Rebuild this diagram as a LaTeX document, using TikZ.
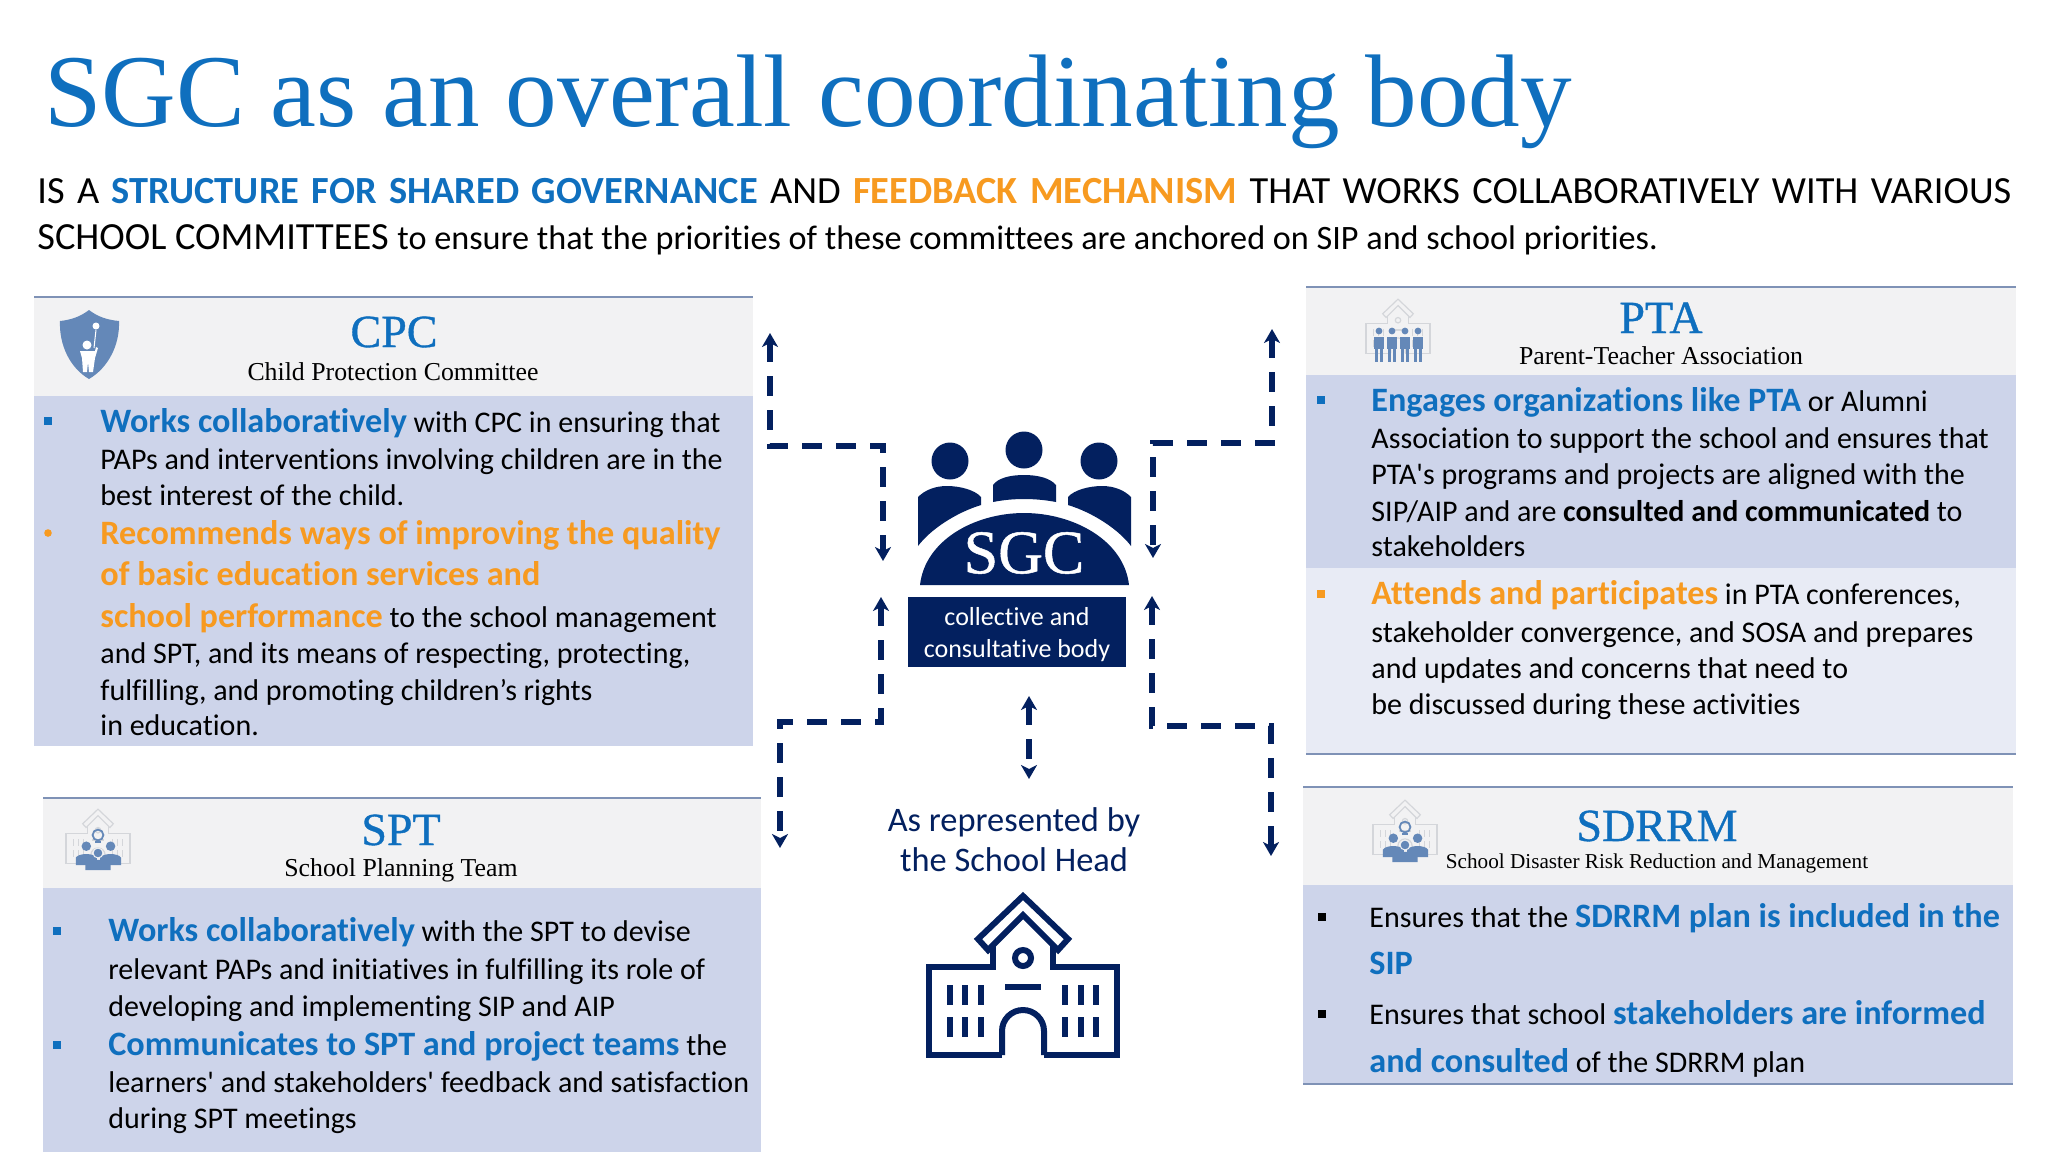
\documentclass[tikz,border=0pt]{standalone}
\usepackage{fontspec}
\usepackage{xcolor}
\usetikzlibrary{arrows.meta}
\setmainfont{Carlito}[Ligatures=NoCommon]
\newfontfamily\headfont{Liberation Serif}
\newfontfamily\titlefont[FakeBold=0.8]{Liberation Serif}
\definecolor{sgcblue}{HTML}{0F6FBE}
\definecolor{sgcorange}{HTML}{F79A20}
\definecolor{sgcnavy}{HTML}{03205F}
\definecolor{paneldark}{HTML}{CDD4EA}
\definecolor{panellight}{HTML}{E8EBF5}
\definecolor{panelhead}{HTML}{F2F2F3}
\definecolor{panelrule}{HTML}{7F92B6}
\definecolor{iconblue}{HTML}{6488B8}
\definecolor{icongrey}{HTML}{D4D6DA}
\newcommand{\hiblue}[1]{{\fontsize{17.1}{20}\selectfont\bfseries\color{sgcblue}#1}}
\newcommand{\hiorange}[1]{{\fontsize{17.1}{20}\selectfont\bfseries\color{sgcorange}#1}}

\begin{document}
\begin{tikzpicture}[x=.5pt,y=-.5pt]
\tikzset{bodyline/.style={anchor=base west,inner sep=0pt,yshift=-.6pt,font=\fontsize{15}{18}\selectfont}}
\tikzset{paneltitle/.style={anchor=base,inner sep=0pt,text=sgcblue,font=\titlefont\fontsize{23}{26}\selectfont}}
\tikzset{panelsub/.style={anchor=base,inner sep=0pt,yshift=-.4pt,font=\headfont\fontsize{12.9}{15}\selectfont}}
\tikzset{squarebullet/.style={rectangle,fill=#1,inner sep=0pt,minimum size=3.6pt}}
\tikzset{link/.style={draw=sgcnavy,line width=2.7pt,dash pattern=on 10pt off 7pt,{Stealth[length=7pt,width=8pt,inset=2pt]}-{Stealth[length=7pt,width=8pt,inset=2pt]}}}
\tikzset{rule/.style={draw=panelrule,line width=1pt}}
\tikzset{hallicon/.pic={
  \draw (-21,80) -- (-94,80) -- (-94,-8) -- (-30,-8) -- (-30,-30);
  \draw (21,80) -- (94,80) -- (94,-8) -- (30,-8) -- (30,-30);
  \draw (-21,80) -- (-21,56) arc[start angle=180,end angle=360,radius=21] -- (21,80);
  \draw (0,-79) -- (-45,-36) -- (-35,-25) -- (0,-60) -- (35,-25) -- (45,-36) -- cycle;
  \draw (0,-17) circle (8);
  \draw (-18,12) -- (18,12);
  \foreach \wx in {-73,-58,-42,42,58,73} {
    \draw (\wx,10) -- (\wx,30);
    \draw (\wx,42) -- (\wx,62);
  }
}}
\tikzset{bust/.pic={
  \fill (0,-10) circle (5);
  \fill (-11,10) -- (-11,2) .. controls (-8,-3) and (8,-3) .. (11,2) -- (11,10) -- cycle;
}}
\tikzset{planners/.pic={
  \draw[line width=.9pt] (0,0) circle (6);
  \draw[line width=.9pt] (-3,8) -- (3,8);
  \pic[scale=.95] at (-13,23) {bust};
  \pic[scale=.95] at (14,23) {bust};
  \draw[fill=iconblue,draw=panelhead,line width=.5pt] (0,20) circle (5.5);
  \fill (-14,39) -- (-14,32) .. controls (-10,26) and (10,26) .. (14,32) -- (14,39) -- cycle;
}}
\useasboundingbox (0,0) rectangle (2048,1152);

% heading
\node[anchor=base west,inner sep=0pt,text=sgcblue,font=\headfont\fontsize{51.6}{56}\selectfont] (heading) at (44,126) {SGC as an overall coordinating body};
\node[anchor=base west,inner sep=0pt,font=\fontsize{19.2}{23}\selectfont] (introA) at (37,203) {\makebox[987pt][s]{IS A \textbf{\textcolor{sgcblue}{STRUCTURE FOR SHARED GOVERNANCE}} AND \textbf{\textcolor{sgcorange}{FEEDBACK MECHANISM}} THAT WORKS COLLABORATIVELY WITH VARIOUS}};
\node[anchor=base west,inner sep=0pt,font=\fontsize{19.2}{23}\selectfont] (introB) at (37,249) {SCHOOL COMMITTEES {\fontsize{17.1}{20}\selectfont to ensure that the priorities of these committees are anchored on SIP and school priorities.}};

% panels
\fill[panelhead] (34,297) rectangle (753,396);
\fill[paneldark] (34,396) rectangle (753,746);
\draw[rule] (34,297) -- (753,297);
\fill[panelhead] (1306,287) rectangle (2016,375);
\fill[paneldark] (1306,375) rectangle (2016,568);
\fill[panellight] (1306,568) rectangle (2016,754);
\draw[rule] (1306,287) -- (2016,287);
\draw[rule] (1306,754) -- (2016,754);
\fill[panelhead] (43,798) rectangle (761,888);
\fill[paneldark] (43,888) rectangle (761,1152);
\draw[rule] (43,798) -- (761,798);
\fill[panelhead] (1303,787) rectangle (2013,885);
\fill[paneldark] (1303,885) rectangle (2013,1084);
\draw[rule] (1303,787) -- (2013,787);
\draw[rule] (1303,1084) -- (2013,1084);

% CPC
\node[paneltitle] (cpcT) at (394,347) {CPC};
\node[panelsub] (cpcS) at (393,380) {Child Protection Committee};
\node[squarebullet=sgcblue] (cpcBa) at (48,421) {};
\node[circle,fill=sgcorange,inner sep=0pt,minimum size=3.8pt] (cpcBb) at (48,533) {};
\node[bodyline] (cpcA) at (100,431) {\hiblue{Works collaboratively} with CPC in ensuring that};
\node[bodyline] (cpcB) at (100,468) {PAPs and interventions involving children are in the};
\node[bodyline] (cpcC) at (100,504) {best interest of the child.};
\node[bodyline] (cpcD) at (100,543) {\hiorange{Recommends ways of improving the quality}};
\node[bodyline] (cpcE) at (100,584) {\hiorange{of basic education services and}};
\node[bodyline] (cpcF) at (100,626) {\hiorange{school performance} to the school management};
\node[bodyline] (cpcG) at (100,662) {and SPT, and its means of respecting, protecting,};
\node[bodyline] (cpcH) at (100,699) {fulfilling, and promoting children’s rights};
\node[bodyline] (cpcI) at (100,734) {in education.};
% shield
\fill[iconblue] (89,310) .. controls (80,317) and (70,320) .. (60,321) .. controls (59,345) and (70,368) .. (89,379) .. controls (108,368) and (120,345) .. (119,321) .. controls (108,320) and (98,317) .. (89,310) -- cycle;
\fill[white] (87,345) circle (4.5);
\fill[white] (96,326) circle (3.5);
\draw[white,line width=.5pt] (96,330) -- (94,348);
\fill[white] (80,351) -- (95,351) -- (96,347) -- (98,348) -- (95,358) -- (93,372) -- (89,372) -- (88,362) -- (87,372) -- (83,372) -- (82,358) -- cycle;

% PTA
\node[paneltitle] (ptaT) at (1661,333) {PTA};
\node[panelsub] (ptaS) at (1661,364) {Parent-Teacher Association};
\pic[scale=.34,line width=.6pt,color=icongrey] at (1398,326) {hallicon};
\begin{scope}[color=iconblue]
\foreach \px in {1379,1392,1405,1418} {
  \fill (\px,331) circle (3.4);
  \fill (\px-5,337) rectangle (\px+5,349);
  \fill (\px-4,349) rectangle (\px-1,362);
  \fill (\px+1,349) rectangle (\px+4,362);
}
\end{scope}
\node[squarebullet=sgcblue] (ptaBa) at (1321,400) {};
\node[squarebullet=sgcorange] (ptaBb) at (1321,594) {};
\node[bodyline] (ptaA) at (1371,410) {\hiblue{Engages organizations like PTA} or Alumni};
\node[bodyline] (ptaB) at (1371,447) {Association to support the school and ensures that};
\node[bodyline] (ptaC) at (1371,483) {PTA\textquotesingle s programs and projects are aligned with the};
\node[bodyline] (ptaD) at (1371,520) {SIP/AIP and are \textbf{consulted and communicated} to};
\node[bodyline] (ptaE) at (1371,555) {stakeholders};
\node[bodyline] (ptaF) at (1371,603) {\hiorange{Attends and participates} in PTA conferences,};
\node[bodyline] (ptaG) at (1371,641) {stakeholder convergence, and SOSA and prepares};
\node[bodyline] (ptaH) at (1371,677) {and updates and concerns that need to};
\node[bodyline] (ptaI) at (1371,713) {be discussed during these activities};

% SPT
\node[paneltitle] (sptT) at (401,845) {SPT};
\node[panelsub] (sptS) at (401,876) {School Planning Team};
\pic[scale=.34,line width=.6pt,color=icongrey] at (98,836) {hallicon};
\pic[color=iconblue,scale=.9] at (98,835) {planners};
\node[squarebullet=sgcblue] (sptBa) at (57,931) {};
\node[squarebullet=sgcblue] (sptBb) at (57,1045) {};
\node[bodyline] (sptA) at (108,940) {\hiblue{Works collaboratively} with the SPT to devise};
\node[bodyline] (sptB) at (108,978) {relevant PAPs and initiatives in fulfilling its role of};
\node[bodyline] (sptC) at (108,1015) {developing and implementing SIP and AIP};
\node[bodyline] (sptD) at (108,1054) {\hiblue{Communicates to SPT and project teams} the};
\node[bodyline] (sptE) at (108,1091) {learners\textquotesingle{} and stakeholders\textquotesingle{} feedback and satisfaction};
\node[bodyline] (sptF) at (108,1127) {during SPT meetings};

% SDRRM
\node[paneltitle] (sdrT) at (1657,841) {SDRRM};
\node[panelsub,font=\headfont\fontsize{10.6}{13}\selectfont] (sdrS) at (1657,868) {School Disaster Risk Reduction and Management};
\pic[scale=.34,line width=.6pt,color=icongrey] at (1405,827) {hallicon};
\pic[color=iconblue,scale=.9] at (1405,827) {planners};
\node[squarebullet=black] (sdrBa) at (1322,917) {};
\node[squarebullet=black] (sdrBb) at (1322,1014) {};
\node[bodyline] (sdrA) at (1369,926) {Ensures that the \hiblue{SDRRM plan is included in the}};
\node[bodyline] (sdrB) at (1369,973) {\hiblue{SIP}};
\node[bodyline] (sdrC) at (1369,1023) {Ensures that school \hiblue{stakeholders are informed}};
\node[bodyline] (sdrD) at (1369,1071) {\hiblue{and consulted} of the SDRRM plan};

% SGC logo
\begin{scope}[color=sgcnavy]
\fill (950,461) circle (18.5);
\fill (1024,450) circle (18.5);
\fill (1099,461) circle (18.5);
\fill (918,546) -- (918,497) .. controls (925,490) and (935,486) .. (947,486) .. controls (960,486) and (975,490) .. (981,497) -- (981,505) .. controls (955,513) and (930,530) .. (918,546) -- cycle;
\fill (1131,546) -- (1131,497) .. controls (1124,490) and (1114,486) .. (1102,486) .. controls (1089,486) and (1074,490) .. (1068,497) -- (1068,505) .. controls (1094,513) and (1119,530) .. (1131,546) -- cycle;
\fill (993,502) -- (993,485) .. controls (998,478) and (1010,475) .. (1024,475) .. controls (1038,475) and (1050,478) .. (1056,485) -- (1056,502) .. controls (1035,498) and (1013,498) .. (993,502) -- cycle;
\fill (920,585) .. controls (925,540) and (975,513) .. (1024,513) .. controls (1073,513) and (1124,540) .. (1129,585) -- cycle;
\end{scope}
\node[text=white,inner sep=0pt,font=\titlefont\fontsize{31}{34}\selectfont] (sgcT) at (1024,553) {SGC};
\node[fill=sgcnavy,text=white,align=center,inner sep=0pt,minimum width=109pt,minimum height=35pt,font=\fontsize{13}{15.7}\selectfont] (sgcbox) at (1017,632) {\rule{0pt}{11.5pt}collective and\\consultative body};

% school head
\node[text=sgcnavy,align=center,inner sep=0pt,font=\fontsize{17.2}{20}\selectfont] (head) at (1014,840) {As represented by\\the School Head};
\pic[line width=3pt,color=sgcnavy] at (1023,975) {hallicon};

% connectors
\coordinate (cpcTip) at (770,333);
\coordinate (cpcBend) at (883,446);
\coordinate (sgcNW) at (883,561);
\coordinate (ptaTip) at (1272,329);
\coordinate (ptaBend) at (1153,443);
\coordinate (sgcNE) at (1153,558);
\coordinate (sgcSW) at (881,597);
\coordinate (sptBend) at (881,722);
\coordinate (sptTip) at (780,848);
\coordinate (sgcSE) at (1152,596);
\coordinate (sdrBend) at (1152,726);
\coordinate (sdrTip) at (1271,856);
\coordinate (sgcS) at (1029,696);
\coordinate (headN) at (1029,779);
\draw[link] (cpcTip) |- (cpcBend) -- (sgcNW);
\draw[link] (ptaTip) |- (ptaBend) -- (sgcNE);
\draw[link] (sgcSW) -- (sptBend) -| (sptTip);
\draw[link] (sgcSE) -- (sdrBend) -| (sdrTip);
\draw[link] (sgcS) -- (headN);
\end{tikzpicture}
\end{document}
